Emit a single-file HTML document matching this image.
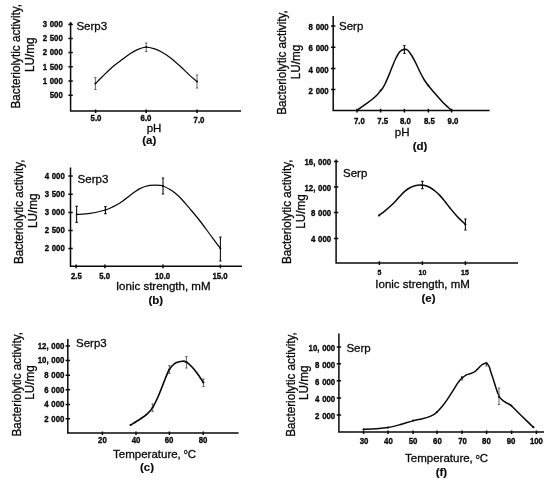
<!DOCTYPE html>
<html lang="en"><head><meta charset="utf-8"><title>Bacteriolytic activity of Serp3 and Serp</title>
<style>
html,body{margin:0;padding:0;background:#fff}
body{width:550px;height:483px;overflow:hidden}
svg{display:block}
text{font-family:"Liberation Sans",sans-serif;fill:#0a0a0a}
.t{font-size:8.2px;font-weight:bold;word-spacing:0.6px;stroke:#0a0a0a;stroke-width:0.33}
.l{font-size:11.5px;stroke:#0a0a0a;stroke-width:0.3}
.y{font-size:12.6px}
.p{font-size:11.5px;font-weight:bold;stroke:#0a0a0a;stroke-width:0.15}
.ax{stroke:#0a0a0a;stroke-width:1.5;fill:none;stroke-linecap:butt}
.tk{stroke:#0a0a0a;stroke-width:1.5;fill:none}
.cv{stroke:#0a0a0a;stroke-width:1.5;fill:none;stroke-linecap:round;stroke-linejoin:round}
.eb{stroke:#111;stroke-width:1.1;fill:none}
.eg{stroke:#555;stroke-width:0.9;fill:none}
.pt{fill:#0a0a0a}
</style></head><body>
<svg width="550" height="483" viewBox="0 0 550 483">
<rect width="550" height="483" fill="#fff"/>
<g>
<path class="ax" d="M70.6,22 V111 H241"/>
<path class="tk" d="M68.4,24.4 h4.4M68.4,38.6 h4.4M68.4,52.6 h4.4M68.4,66.8 h4.4M68.4,81 h4.4M68.4,95.2 h4.4M95.6,109.4 v3.6M146.2,109.4 v3.6M197,109.4 v3.6"/>
<path class="pt" d="M68.7,24.6 l1.9,-2.7 l1.9,2.7 z"/>
<text class="t" text-anchor="end" transform="translate(62.8,27.2) scale(0.955,1)">3 000</text>
<text class="t" text-anchor="end" transform="translate(62.8,41.4) scale(0.955,1)">2 500</text>
<text class="t" text-anchor="end" transform="translate(62.8,55.4) scale(0.955,1)">2 000</text>
<text class="t" text-anchor="end" transform="translate(62.8,69.6) scale(0.955,1)">1 500</text>
<text class="t" text-anchor="end" transform="translate(62.8,83.8) scale(0.955,1)">1 000</text>
<text class="t" text-anchor="end" transform="translate(62.8,98) scale(0.955,1)">500</text>
<text class="t" text-anchor="middle" transform="translate(96,121) scale(0.955,1)">5.0</text>
<text class="t" text-anchor="middle" transform="translate(146,121) scale(0.955,1)">6.0</text>
<text class="t" text-anchor="middle" transform="translate(199,123) scale(0.955,1)">7.0</text>
<text class="l" transform="translate(76.4,30.3)">Serp3</text>
<text class="l y" text-anchor="middle" transform="translate(19.9,56.2) rotate(-90) scale(0.93,1)">Bacteriolytic activity,</text>
<text class="l y" text-anchor="middle" transform="translate(34,54.8) rotate(-90) scale(0.93,1)">LU/mg</text>
<text class="l" text-anchor="middle" transform="translate(154,132.4)">pH</text>
<text class="p" text-anchor="middle" transform="translate(149.2,144.4)">(a)</text>
<path class="cv" style="stroke-width:1.25" d="M95.4,83.6 C96.5,82.5 99.57,79.4 102,77 C104.43,74.6 107,71.83 110,69.2 C113,66.57 116.67,63.77 120,61.2 C123.33,58.63 127,55.78 130,53.8 C133,51.82 135.3,50.42 138,49.3 C140.7,48.18 143.53,47.2 146.2,47.1 C148.87,47 151.37,47.85 154,48.7 C156.63,49.55 159.33,50.75 162,52.2 C164.67,53.65 167,55.1 170,57.4 C173,59.7 176.67,62.97 180,66 C183.33,69.03 187.17,73 190,75.6 C192.83,78.2 195.83,80.6 197,81.6"/>
<path class="eg" d="M95.4,77.6 V89.6M94.2,77.6 h2.4M94.2,89.6 h2.4M146.2,43 V51.4M145,43 h2.4M145,51.4 h2.4M197,75 V88M195.8,75 h2.4M195.8,88 h2.4"/>
<circle class="pt" cx="95.4" cy="83.6" r="1"/>
<circle class="pt" cx="146.2" cy="47" r="1"/>
<circle class="pt" cx="197" cy="81.6" r="1"/>
</g>
<g>
<path class="ax" d="M70.5,167.6 V266.2 H242"/>
<path class="tk" d="M68.3,176 h4.4M68.3,194.2 h4.4M68.3,212.4 h4.4M68.3,230.5 h4.4M68.3,248.6 h4.4M76.1,264.6 v3.6M104.9,264.6 v3.6M163,264.6 v3.6M220.4,264.6 v3.6"/>
<text class="t" text-anchor="end" transform="translate(64.8,178.8) scale(0.955,1)">4 000</text>
<text class="t" text-anchor="end" transform="translate(64.8,197) scale(0.955,1)">3 500</text>
<text class="t" text-anchor="end" transform="translate(64.8,215.2) scale(0.955,1)">3 000</text>
<text class="t" text-anchor="end" transform="translate(64.8,233.3) scale(0.955,1)">2 500</text>
<text class="t" text-anchor="end" transform="translate(64.8,251.4) scale(0.955,1)">2 000</text>
<text class="t" text-anchor="middle" transform="translate(76.4,279) scale(0.955,1)">2.5</text>
<text class="t" text-anchor="middle" transform="translate(104.7,279) scale(0.955,1)">5.0</text>
<text class="t" text-anchor="middle" transform="translate(162.6,279) scale(0.955,1)">10.0</text>
<text class="t" text-anchor="middle" transform="translate(220,279) scale(0.955,1)">15.0</text>
<text class="l" transform="translate(77.6,183)">Serp3</text>
<text class="l y" text-anchor="middle" transform="translate(22.5,211.8) rotate(-90) scale(0.93,1)">Bacteriolytic activity,</text>
<text class="l y" text-anchor="middle" transform="translate(37.2,210.8) rotate(-90) scale(0.93,1)">LU/mg</text>
<text class="l" text-anchor="middle" transform="translate(163.2,290)">Ionic strength, mM</text>
<text class="p" text-anchor="middle" transform="translate(155.8,304)">(b)</text>
<path class="cv" style="stroke-width:1.25" d="M76.6,214.4 C78.83,214.23 85.2,214.13 90,213.4 C94.8,212.67 101.73,211.02 105.4,210 C109.07,208.98 109.57,208.47 112,207.3 C114.43,206.13 117,204.97 120,203 C123,201.03 127.5,197.38 130,195.5 C132.5,193.62 133.33,192.85 135,191.7 C136.67,190.55 138.33,189.47 140,188.6 C141.67,187.73 143.33,187.05 145,186.5 C146.67,185.95 148.33,185.55 150,185.3 C151.67,185.05 153.33,185 155,185 C156.67,185 158.67,185.13 160,185.3 C161.33,185.47 161.33,185.3 163,186 C164.67,186.7 168,188.33 170,189.5 C172,190.67 173.33,191.67 175,193 C176.67,194.33 178.33,195.83 180,197.5 C181.67,199.17 183.33,201.12 185,203 C186.67,204.88 187.5,205.8 190,208.8 C192.5,211.8 196.67,216.72 200,221 C203.33,225.28 206.6,229.93 210,234.5 C213.4,239.07 218.67,246.08 220.4,248.4"/>
<path class="eb" d="M76.6,206.4 V222.4M75.4,206.4 h2.4M75.4,222.4 h2.4M105.4,206.6 V213.6M104.2,206.6 h2.4M104.2,213.6 h2.4M163,178 V194M161.8,178 h2.4M161.8,194 h2.4M220.4,237 V261M219.2,237 h2.4M219.2,261 h2.4"/>
<circle class="pt" cx="76.6" cy="214.4" r="1"/>
<circle class="pt" cx="105.4" cy="210" r="1"/>
<circle class="pt" cx="163" cy="186" r="1"/>
<circle class="pt" cx="220.4" cy="248.4" r="1"/>
</g>
<g>
<path class="ax" d="M67.8,339 V433 H238.6"/>
<path class="tk" d="M65.6,346 h4.4M65.6,360.6 h4.4M65.6,375.2 h4.4M65.6,389.8 h4.4M65.6,404.4 h4.4M65.6,418.8 h4.4M102.4,431.4 v3.6M136,431.4 v3.6M169.4,431.4 v3.6M203.2,431.4 v3.6"/>
<text class="t" text-anchor="end" transform="translate(64.4,348.8) scale(0.955,1)">12, 000</text>
<text class="t" text-anchor="end" transform="translate(64.4,363.4) scale(0.955,1)">10, 000</text>
<text class="t" text-anchor="end" transform="translate(64.4,378) scale(0.955,1)">8 000</text>
<text class="t" text-anchor="end" transform="translate(64.4,392.6) scale(0.955,1)">6 000</text>
<text class="t" text-anchor="end" transform="translate(64.4,407.2) scale(0.955,1)">4 000</text>
<text class="t" text-anchor="end" transform="translate(64.4,421.6) scale(0.955,1)">2 000</text>
<text class="t" text-anchor="middle" transform="translate(102.4,443.2) scale(0.955,1)">20</text>
<text class="t" text-anchor="middle" transform="translate(136,443.2) scale(0.955,1)">40</text>
<text class="t" text-anchor="middle" transform="translate(169,443.2) scale(0.955,1)">60</text>
<text class="t" text-anchor="middle" transform="translate(203,443.2) scale(0.955,1)">80</text>
<text class="l" transform="translate(76,347.4)">Serp3</text>
<text class="l y" text-anchor="middle" transform="translate(21,384.3) rotate(-90) scale(0.93,1)">Bacteriolytic activity,</text>
<text class="l y" text-anchor="middle" transform="translate(34.2,382.5) rotate(-90) scale(0.93,1)">LU/mg</text>
<text class="l" text-anchor="middle" transform="translate(154.5,457.5)">Temperature, <tspan font-size="6.5px" dy="-3.3">o</tspan><tspan dy="3.3">C</tspan></text>
<text class="p" text-anchor="middle" transform="translate(147,470.7)">(c)</text>
<path class="cv" style="stroke-width:1.65" d="M130.6,425 C132.17,424.03 137.18,421.1 140,419.2 C142.82,417.3 145.4,415.53 147.5,413.6 C149.6,411.67 150.93,410.2 152.6,407.6 C154.27,405 155.93,401.43 157.5,398 C159.07,394.57 160.67,390.33 162,387 C163.33,383.67 164.33,380.83 165.5,378 C166.67,375.17 167.92,372 169,370 C170.08,368 170.83,367.2 172,366 C173.17,364.8 174.25,363.6 176,362.8 C177.75,362 180.67,361.25 182.5,361.2 C184.33,361.15 185.42,361.53 187,362.5 C188.58,363.47 190.33,365.25 192,367 C193.67,368.75 195.1,370.4 197,373 C198.9,375.6 202.33,381 203.4,382.6"/>
<path class="eg" d="M152.6,404 V411.4M151.4,404 h2.4M151.4,411.4 h2.4M169.4,365.6 V373.4M168.2,365.6 h2.4M168.2,373.4 h2.4M186.4,356.6 V368M185.2,356.6 h2.4M185.2,368 h2.4M203.4,379 V386.6M202.2,379 h2.4M202.2,386.6 h2.4"/>
<circle class="pt" cx="130.6" cy="425" r="1"/>
<circle class="pt" cx="152.6" cy="407.6" r="1"/>
<circle class="pt" cx="169.4" cy="369.4" r="1"/>
<circle class="pt" cx="186.4" cy="362" r="1"/>
<circle class="pt" cx="203.4" cy="382.6" r="1"/>
</g>
<g>
<path class="ax" d="M333.2,16 V110.4 H489.6"/>
<path class="tk" d="M331,26 h4.4M331,47.3 h4.4M331,68.5 h4.4M331,89.6 h4.4M357,108.8 v3.6M380.6,108.8 v3.6M404.4,108.8 v3.6M428.4,108.8 v3.6M451.6,108.8 v3.6"/>
<text class="t" text-anchor="end" transform="translate(328.7,30.1) scale(0.955,1)">8 000</text>
<text class="t" text-anchor="end" transform="translate(328.7,51.4) scale(0.955,1)">6 000</text>
<text class="t" text-anchor="end" transform="translate(328.7,72.6) scale(0.955,1)">4 000</text>
<text class="t" text-anchor="end" transform="translate(328.7,93.7) scale(0.955,1)">2 000</text>
<text class="t" text-anchor="middle" transform="translate(359.4,123.8) scale(0.955,1)">7.0</text>
<text class="t" text-anchor="middle" transform="translate(382.6,123.8) scale(0.955,1)">7.5</text>
<text class="t" text-anchor="middle" transform="translate(405.4,123.8) scale(0.955,1)">8.0</text>
<text class="t" text-anchor="middle" transform="translate(429.4,123.8) scale(0.955,1)">8.5</text>
<text class="t" text-anchor="middle" transform="translate(453,123.8) scale(0.955,1)">9.0</text>
<text class="l" transform="translate(339,30)">Serp</text>
<text class="l y" text-anchor="middle" transform="translate(285.5,62.5) rotate(-90) scale(0.93,1)">Bacteriolytic activity,</text>
<text class="l y" text-anchor="middle" transform="translate(299.5,62) rotate(-90) scale(0.93,1)">LU/mg</text>
<text class="l" text-anchor="middle" transform="translate(402.2,136.4)">pH</text>
<text class="p" text-anchor="middle" transform="translate(420,150)">(d)</text>
<path class="cv" style="stroke-width:1.5" d="M357,110.4 C358.33,109.43 362.5,106.42 365,104.6 C367.5,102.78 370,101.1 372,99.5 C374,97.9 375.53,96.5 377,95 C378.47,93.5 379.8,91.73 380.8,90.5 C381.8,89.27 382.3,88.68 383,87.6 C383.7,86.52 384.33,85.33 385,84 C385.67,82.67 386.25,81.33 387,79.6 C387.75,77.87 388.67,75.65 389.5,73.6 C390.33,71.55 390.92,69.9 392,67.3 C393.08,64.7 394.67,60.62 396,58 C397.33,55.38 398.6,53.05 400,51.6 C401.4,50.15 403.07,49.48 404.4,49.3 C405.73,49.12 406.73,49.38 408,50.5 C409.27,51.62 410.67,53.83 412,56 C413.33,58.17 414.67,60.83 416,63.5 C417.33,66.17 418.67,69.33 420,72 C421.33,74.67 422.62,77.25 424,79.5 C425.38,81.75 426.47,83.17 428.3,85.5 C430.13,87.83 432.72,90.83 435,93.5 C437.28,96.17 439.83,99.22 442,101.5 C444.17,103.78 446.37,105.72 448,107.2 C449.63,108.68 451.17,109.87 451.8,110.4"/>
<path class="eb" d="M404.4,45.5 V53.5M403.2,45.5 h2.4M403.2,53.5 h2.4"/>
<circle class="pt" cx="380.6" cy="90.4" r="1"/>
<circle class="pt" cx="404.4" cy="49.4" r="1"/>
<circle class="pt" cx="428.4" cy="85.6" r="1"/>
</g>
<g>
<path class="ax" d="M336.1,159.4 V262.9 H518"/>
<path class="tk" d="M333.9,161.6 h4.4M333.9,187 h4.4M333.9,212.6 h4.4M333.9,238.4 h4.4M379.4,261.3 v3.6M422.4,261.3 v3.6M465.4,261.3 v3.6"/>
<text class="t" text-anchor="end" transform="translate(331.1,165.4) scale(0.955,1)">16, 000</text>
<text class="t" text-anchor="end" transform="translate(331.1,190.8) scale(0.955,1)">12, 000</text>
<text class="t" text-anchor="end" transform="translate(331.1,216.4) scale(0.955,1)">8 000</text>
<text class="t" text-anchor="end" transform="translate(331.1,242.2) scale(0.955,1)">4 000</text>
<text class="t" text-anchor="middle" style="font-size:7.3px" transform="translate(379.4,275.2) scale(0.955,1)">5</text>
<text class="t" text-anchor="middle" style="font-size:7.3px" transform="translate(422.4,275.2) scale(0.955,1)">10</text>
<text class="t" text-anchor="middle" style="font-size:7.3px" transform="translate(465,275.2) scale(0.955,1)">15</text>
<text class="l" transform="translate(343,177)">Serp</text>
<text class="l y" text-anchor="middle" transform="translate(290.5,211.8) rotate(-90) scale(0.93,1)">Bacteriolytic activity,</text>
<text class="l y" text-anchor="middle" transform="translate(304.5,211.4) rotate(-90) scale(0.93,1)">LU/mg</text>
<text class="l" text-anchor="middle" transform="translate(422.6,288)">Ionic strength, mM</text>
<text class="p" text-anchor="middle" transform="translate(428.5,301.6)">(e)</text>
<path class="cv" style="stroke-width:1.55" d="M379,215.4 C380,214.63 383.17,212.28 385,210.8 C386.83,209.32 388.33,208.02 390,206.5 C391.67,204.98 393.33,203.42 395,201.7 C396.67,199.98 398.33,197.95 400,196.2 C401.67,194.45 403.33,192.6 405,191.2 C406.67,189.8 408.33,188.7 410,187.8 C411.67,186.9 413.33,186.27 415,185.8 C416.67,185.33 418.33,185.07 420,185 C421.67,184.93 423.33,184.98 425,185.4 C426.67,185.82 428.33,186.57 430,187.5 C431.67,188.43 433.33,189.65 435,191 C436.67,192.35 438.33,193.85 440,195.6 C441.67,197.35 443.33,199.43 445,201.5 C446.67,203.57 448,205.55 450,208 C452,210.45 454.43,213.47 457,216.2 C459.57,218.93 464,223.03 465.4,224.4"/>
<path class="eb" d="M422.4,181.4 V188.6M421.2,181.4 h2.4M421.2,188.6 h2.4M465.4,219 V230M464.2,219 h2.4M464.2,230 h2.4"/>
<circle class="pt" cx="379" cy="215.4" r="1"/>
<circle class="pt" cx="422.4" cy="185.4" r="1"/>
<circle class="pt" cx="465.4" cy="224.4" r="1"/>
</g>
<g>
<path class="ax" d="M338.9,333.6 V432 H544"/>
<path class="tk" d="M336.7,347 h4.4M336.7,363.8 h4.4M336.7,380.8 h4.4M336.7,398 h4.4M336.7,415 h4.4M363.6,430.4 v3.6M388,430.4 v3.6M413,430.4 v3.6M437,430.4 v3.6M462,430.4 v3.6M486.6,430.4 v3.6M511.6,430.4 v3.6M536.4,430.4 v3.6"/>
<text class="t" text-anchor="end" transform="translate(335.2,350.8) scale(0.955,1)">10, 000</text>
<text class="t" text-anchor="end" transform="translate(335.2,367.6) scale(0.955,1)">8 000</text>
<text class="t" text-anchor="end" transform="translate(335.2,384.6) scale(0.955,1)">6 000</text>
<text class="t" text-anchor="end" transform="translate(335.2,401.8) scale(0.955,1)">4 000</text>
<text class="t" text-anchor="end" transform="translate(335.2,418.8) scale(0.955,1)">2 000</text>
<text class="t" text-anchor="middle" transform="translate(364,444.1) scale(0.955,1)">30</text>
<text class="t" text-anchor="middle" transform="translate(388.4,444.1) scale(0.955,1)">40</text>
<text class="t" text-anchor="middle" transform="translate(413,444.1) scale(0.955,1)">50</text>
<text class="t" text-anchor="middle" transform="translate(437.4,444.1) scale(0.955,1)">60</text>
<text class="t" text-anchor="middle" transform="translate(462.6,444.1) scale(0.955,1)">70</text>
<text class="t" text-anchor="middle" transform="translate(486.4,444.1) scale(0.955,1)">80</text>
<text class="t" text-anchor="middle" transform="translate(511,444.1) scale(0.955,1)">90</text>
<text class="t" text-anchor="middle" transform="translate(536.4,444.1) scale(0.955,1)">100</text>
<text class="l" transform="translate(346.4,352.2)">Serp</text>
<text class="l y" text-anchor="middle" transform="translate(294.5,384.5) rotate(-90) scale(0.93,1)">Bacteriolytic activity,</text>
<text class="l y" text-anchor="middle" transform="translate(308,382.8) rotate(-90) scale(0.93,1)">LU/mg</text>
<text class="l" text-anchor="middle" transform="translate(446.5,462)">Temperature, <tspan font-size="6.5px" dy="-3.3">o</tspan><tspan dy="3.3">C</tspan></text>
<text class="p" text-anchor="middle" transform="translate(441.4,475.6)">(f)</text>
<path class="cv" d="M363.4,429.2 C365.5,429.12 371.9,428.98 376,428.7 C380.1,428.42 383.92,428.2 388,427.5 C392.08,426.8 396.37,425.6 400.5,424.5 C404.63,423.4 409.17,421.87 412.8,420.9 C416.43,419.93 419.52,419.42 422.3,418.7 C425.08,417.98 427.63,417.28 429.5,416.6 C431.37,415.92 432.28,415.33 433.5,414.6 C434.72,413.87 435.33,413.6 436.8,412.2 C438.27,410.8 440.48,408.43 442.3,406.2 C444.12,403.97 445.92,401.4 447.7,398.8 C449.48,396.2 451.37,393.17 453,390.6 C454.63,388.03 456.25,385.27 457.5,383.4 C458.75,381.53 459.72,380.32 460.5,379.4 C461.28,378.48 461.28,378.6 462.2,377.9 C463.12,377.2 464.7,375.9 466,375.2 C467.3,374.5 468.67,374.2 470,373.7 C471.33,373.2 472.83,372.88 474,372.2 C475.17,371.52 476,370.55 477,369.6 C478,368.65 479,367.4 480,366.5 C481,365.6 482,364.75 483,364.2 C484,363.65 485.17,363.13 486,363.2 C486.83,363.27 487.42,363.88 488,364.6 C488.58,365.32 489,366.18 489.5,367.5 C490,368.82 490.33,370.42 491,372.5 C491.67,374.58 492.67,377.42 493.5,380 C494.33,382.58 495.25,385.73 496,388 C496.75,390.27 497.33,392 498,393.6 C498.67,395.2 499.17,396.43 500,397.6 C500.83,398.77 501.83,399.67 503,400.6 C504.17,401.53 505.62,402.33 507,403.2 C508.38,404.07 508.8,403.62 511.3,405.8 C513.8,407.98 518.3,412.7 522,416.3 C525.7,419.9 531.58,425.55 533.5,427.4"/>
<path class="eg" d="M462,376.6 V380M460.8,376.6 h2.4M460.8,380 h2.4M486.4,362.4 V366M485.2,362.4 h2.4M485.2,366 h2.4M499,388 V404.5M497.8,388 h2.4M497.8,404.5 h2.4"/>
<circle class="pt" cx="363.6" cy="429.4" r="1"/>
<circle class="pt" cx="388" cy="427.4" r="1"/>
<circle class="pt" cx="413" cy="420.4" r="1"/>
<circle class="pt" cx="437" cy="412" r="1"/>
<circle class="pt" cx="462" cy="378" r="1"/>
<circle class="pt" cx="486.4" cy="363.6" r="1"/>
<circle class="pt" cx="499" cy="397" r="1"/>
<circle class="pt" cx="511.4" cy="405.4" r="1"/>
<circle class="pt" cx="533.4" cy="427" r="1"/>
</g>
</svg></body></html>
